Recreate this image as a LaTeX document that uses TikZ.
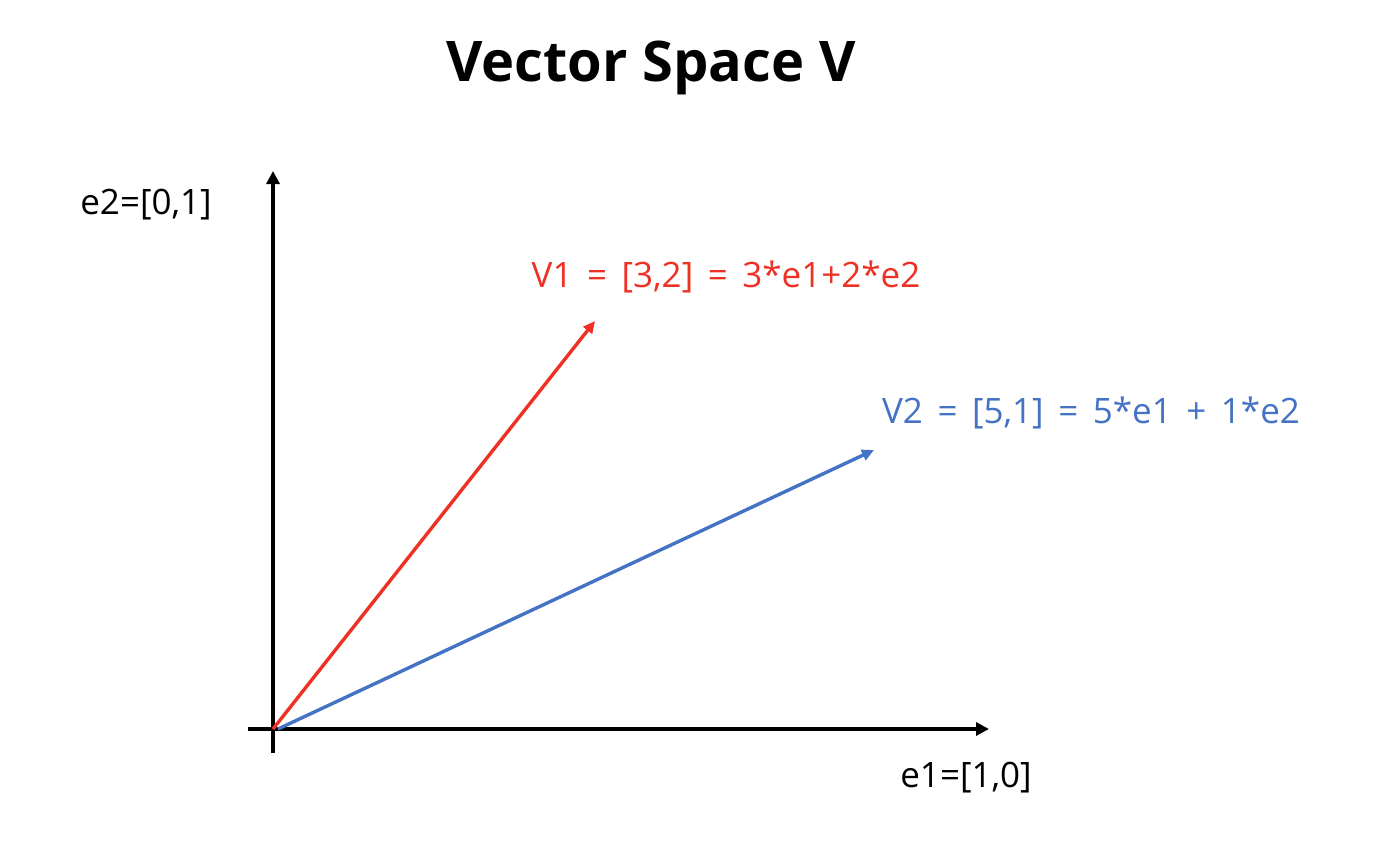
\documentclass[tikz,border=0pt]{standalone}
\usepackage{fontspec}
\setmainfont{Open Sans}[WordSpace=1.6]
\newfontfamily\titlefont{Open Sans}[WordSpace=1.0]
\usetikzlibrary{arrows.meta}
\definecolor{vred}{HTML}{EE3124}
\definecolor{vblue}{HTML}{4472C4}
\tikzset{
  axis/.style={line width=3.8pt,-{Triangle[length=13pt,width=13pt]}},
  vec/.style={line width=3.4pt,-{Triangle[length=12pt,width=11pt]}},
  lbl/.style={inner sep=0pt,font=\fontsize{35}{42}\selectfont},
  ttl/.style={inner sep=0pt,font=\titlefont\fontsize{56}{66}\selectfont\bfseries}
}
\begin{document}
\begin{tikzpicture}[x=1pt,y=-1pt]
\useasboundingbox (0,0) rectangle (1400,862);
\coordinate (o) at (273,729);
\coordinate (ybot) at (273,753);
\coordinate (ytop) at (273,171);
\coordinate (xl) at (248,729);
\coordinate (xr) at (989,729);
\coordinate (v1) at (595,321);
\coordinate (v2) at (874,450);
\node[ttl] (title) at (651,68) {Vector Space V};
\draw[axis] (ybot) -- (ytop);
\draw[axis] (xl) -- (xr);
\draw[vec,vred] (o) -- (v1);
\draw[vec,vblue] ([xshift=5pt]o) -- (v2);
\node[lbl] (e2) at (146,205) {e2=[0,1]};
\node[lbl] (e1) at (966,778) {e1=[1,0]};
\node[lbl,text=vred] (l1) at (726,277) {V1 = [3,2] = 3*e1+2*e2};
\node[lbl,text=vblue] (l2) at (1091,413) {V2 = [5,1] = 5*e1 + 1*e2};
\end{tikzpicture}
\end{document}
